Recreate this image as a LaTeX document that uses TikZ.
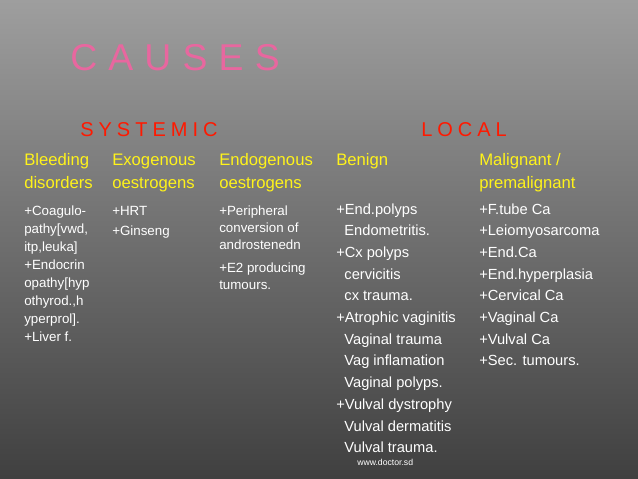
\documentclass[tikz,border=0pt]{standalone}
\usepackage{fontspec}
\setmainfont{Liberation Sans}
\definecolor{ttl}{HTML}{E8679F}
\begin{document}
\begin{tikzpicture}[x=0.75pt,y=-0.75pt,
 hd/.style={anchor=base west,inner sep=0pt,text=yellow!90!white,font=\fontsize{12.5}{14}\selectfont},
 bd/.style={anchor=base west,inner sep=0pt,text=white,font=\fontsize{11}{13}\selectfont},
 sm/.style={anchor=base west,inner sep=0pt,text=white,font=\fontsize{10}{12}\selectfont}]
\shade[top color=gray!95!white!80,bottom color=black!75] (0,0) rectangle (638,478);
\node[anchor=base west,inner sep=0pt,text=ttl,font=\fontsize{28}{30}\selectfont\addfontfeatures{LetterSpace=30}] (t) at (70,70) {CAUSES};
\node[anchor=base west,inner sep=0pt,text=red!80!orange,font=\fontsize{15}{18}\selectfont\addfontfeatures{LetterSpace=25}] (s) at (80,136) {SYSTEMIC};
\node[anchor=base west,inner sep=0pt,text=red!80!orange,font=\fontsize{15}{18}\selectfont\addfontfeatures{LetterSpace=25}] (l) at (421,136) {LOCAL};
\foreach \x/\a/\b [count=\i] in {24/Bleeding/disorders,112/Exogenous/oestrogens,219/Endogenous/oestrogens,336/Benign/{},479/{Malignant /}/premalignant}{
 \node[hd] (h\i a) at (\x,165) {\a};
 \node[hd] (h\i b) at (\x,188) {\b};}
\foreach \t [count=\i] in {+Coagulo-,{pathy[vwd,},{itp,leuka]},+Endocrin,opathy[hyp,{othyrod.,h},yperprol].,+Liver f.}
 \node[sm] (a\i) at (24,215+18*\i-18) {\t};
\node[sm] (b1) at (112,215) {+HRT};
\node[sm] (b2) at (112,235) {+Ginseng};
\node[sm] (c1) at (219,215) {+Peripheral};
\node[sm] (c2) at (219,232) {conversion of};
\node[sm] (c3) at (219,249) {androstenedn};
\node[sm] (c4) at (219,272) {+E2 producing};
\node[sm] (c5) at (219,289) {tumours.};
\foreach \t [count=\i] in {+End.polyps,{\ \ Endometritis.},+Cx polyps,{\ \ cervicitis},{\ \ cx trauma.},+Atrophic vaginitis,{\ \ Vaginal trauma},{\ \ Vag inflamation},{\ \ Vaginal polyps.},+Vulval dystrophy,{\ \ Vulval dermatitis},{\ \ Vulval trauma.}}
 \node[bd] (d\i) at (336,214+21.7*\i-21.7) {\t};
\foreach \t [count=\i] in {+F.tube Ca,+Leiomyosarcoma,+End.Ca,+End.hyperplasia,+Cervical Ca,+Vaginal Ca,+Vulval Ca,+Sec. tumours.}
 \node[bd] (e\i) at (479,214+21.7*\i-21.7) {\t};
\node[anchor=base west,inner sep=0pt,text=white,font=\fontsize{6.5}{8}\selectfont] (w) at (357,465) {www.doctor.sd};
\end{tikzpicture}
\end{document}
